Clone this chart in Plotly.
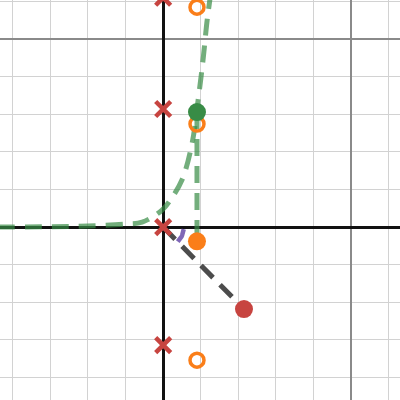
import numpy as np
import plotly.graph_objects as go

# curve
curve_x = [-4.4, -3.0, -2.0, -1.0, -0.56, -0.03, 0.19, 0.5, 0.77, 0.93, 1.06, 1.17, 1.25]
curve_y = [0.0, 0.01, 0.03, 0.08, 0.13, 0.45, 0.72, 1.25, 2.23, 3.38, 4.44, 5.5, 6.1]

vert_x = [0.9, 0.9]
vert_y = [3.06, -0.38]

seg_x = [0.0, 2.15]
seg_y = [0.0, -2.18]

x_marks_y = [6.1, 3.14, 0.0, -3.14]
open_orange_y = [5.85, 2.74, -3.54]
filled_orange = (0.9, -0.38)
green_dot = (0.9, 3.06)
red_dot = (2.15, -2.18)

red, green, orange, purple = "#c74440", "#388c46", "#fa7e19", "#6042a6"
dash = "17px,10px"

fig = go.Figure()
fig.add_trace(go.Scatter(x=curve_x, y=curve_y, mode="lines", line=dict(color=green, width=5, dash=dash, shape="spline"), opacity=0.7))
fig.add_trace(go.Scatter(x=vert_x, y=vert_y, mode="lines", line=dict(color=green, width=5, dash=dash), opacity=0.7))
fig.add_trace(go.Scatter(x=seg_x, y=seg_y, mode="lines", line=dict(color="#2d2d2d", width=5, dash=dash), opacity=0.85))
ang = np.linspace(-np.pi / 4, -0.1, 12)
fig.add_trace(go.Scatter(x=0.55 * np.cos(ang), y=0.55 * np.sin(ang), mode="lines", line=dict(color=purple, width=4.5), opacity=0.8))
fig.add_trace(go.Scatter(x=[0] * len(x_marks_y), y=x_marks_y, mode="markers",
                         marker=dict(symbol="x-thin", size=15, line=dict(color=red, width=4.5))))
fig.add_trace(go.Scatter(x=[0.9] * len(open_orange_y), y=open_orange_y, mode="markers",
                         marker=dict(symbol="circle-open", size=14, color=orange, line=dict(width=3.5))))
fig.add_trace(go.Scatter(x=[filled_orange[0]], y=[filled_orange[1]], mode="markers", marker=dict(size=18, color=orange)))
fig.add_trace(go.Scatter(x=[green_dot[0]], y=[green_dot[1]], mode="markers", marker=dict(size=18, color=green)))
fig.add_trace(go.Scatter(x=[red_dot[0]], y=[red_dot[1]], mode="markers", marker=dict(size=18, color=red)))

ax = dict(dtick=5, tick0=0, showgrid=True, gridcolor="#8a8a8a", gridwidth=1.5,
          minor=dict(dtick=1, showgrid=True, gridcolor="#d2d2d2", gridwidth=1.2),
          zeroline=True, zerolinecolor="#111", zerolinewidth=3, showticklabels=False, ticks="")
fig.update_xaxes(range=[-4.34, 6.3], **ax)
fig.update_yaxes(range=[-4.6, 6.04], **ax)
fig.update_layout(width=400, height=400, margin=dict(l=0, r=0, t=0, b=0), showlegend=False,
                  plot_bgcolor="white", paper_bgcolor="white")
fig.write_html("out.html", config={"displayModeBar": False},
               post_script="document.body.style.margin='0';")
